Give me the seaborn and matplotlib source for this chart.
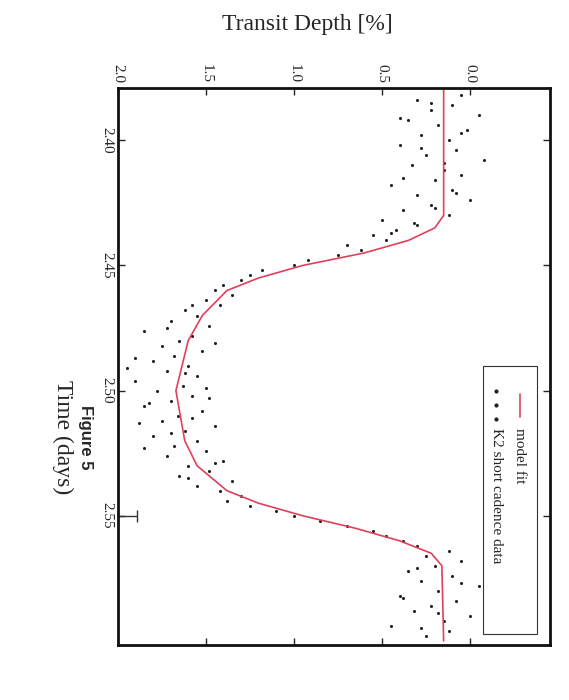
import matplotlib
matplotlib.use("Agg")
import matplotlib.pyplot as plt
import seaborn as sns
import numpy as np

sns.set_theme(style="white")
plt.rcParams['font.family'] = ['Liberation Serif', 'DejaVu Serif']

model_t = [2.380, 2.430, 2.435, 2.440, 2.445, 2.450, 2.455, 2.460, 2.470, 2.480, 2.500,
           2.520, 2.530, 2.540, 2.545, 2.550, 2.555, 2.560, 2.565, 2.570, 2.600]
model_d = [0.15, 0.15, 0.20, 0.35, 0.60, 0.95, 1.20, 1.38, 1.52, 1.60, 1.67,
           1.62, 1.55, 1.38, 1.20, 0.95, 0.65, 0.40, 0.22, 0.16, 0.15]

data_t = [2.382, 2.384, 2.386, 2.388, 2.390, 2.392, 2.394, 2.396, 2.398, 2.400,
          2.402, 2.404, 2.406, 2.408, 2.410, 2.412, 2.414, 2.416, 2.418, 2.420,
          2.422, 2.424, 2.426, 2.428, 2.430, 2.432, 2.434, 2.436, 2.438, 2.440,
          2.442, 2.444, 2.446, 2.448, 2.450, 2.452, 2.454, 2.456, 2.458, 2.460,
          2.462, 2.464, 2.466, 2.468, 2.470, 2.472, 2.474, 2.476, 2.478, 2.480,
          2.482, 2.484, 2.486, 2.488, 2.490, 2.492, 2.494, 2.496, 2.498, 2.500,
          2.502, 2.504, 2.506, 2.508, 2.510, 2.512, 2.514, 2.516, 2.518, 2.520,
          2.522, 2.524, 2.526, 2.528, 2.530, 2.532, 2.534, 2.536, 2.538, 2.540,
          2.542, 2.544, 2.546, 2.548, 2.550, 2.552, 2.554, 2.556, 2.558, 2.560,
          2.562, 2.564, 2.566, 2.568, 2.570, 2.572, 2.574, 2.576, 2.578, 2.580,
          2.582, 2.584, 2.586, 2.588, 2.590, 2.592, 2.594, 2.596, 2.598,
          2.385, 2.391, 2.397, 2.403, 2.409, 2.415, 2.421, 2.427, 2.433, 2.437,
          2.475, 2.481, 2.487, 2.493, 2.499, 2.505, 2.511, 2.517, 2.523, 2.529,
          2.571, 2.577, 2.583, 2.589, 2.595, 2.466, 2.491, 2.503, 2.513, 2.535]
data_d = [0.05, 0.30, 0.10, 0.22, -0.05, 0.35, 0.18, 0.02, 0.28, 0.12,
          0.40, 0.08, 0.25, -0.08, 0.33, 0.15, 0.05, 0.20, 0.45, 0.10,
          0.30, 0.00, 0.22, 0.38, 0.12, 0.50, 0.30, 0.42, 0.55, 0.48,
          0.70, 0.62, 0.75, 0.92, 1.00, 1.18, 1.25, 1.30, 1.40, 1.45,
          1.35, 1.50, 1.42, 1.62, 1.55, 1.70, 1.48, 1.85, 1.58, 1.65,
          1.75, 1.52, 1.68, 1.80, 1.60, 1.72, 1.55, 1.90, 1.63, 1.78,
          1.58, 1.70, 1.85, 1.52, 1.66, 1.75, 1.45, 1.62, 1.80, 1.55,
          1.68, 1.50, 1.72, 1.40, 1.60, 1.48, 1.65, 1.35, 1.55, 1.42,
          1.30, 1.38, 1.25, 1.10, 1.00, 0.85, 0.70, 0.55, 0.48, 0.38,
          0.30, 0.12, 0.25, 0.05, 0.20, 0.35, 0.10, 0.28, -0.05, 0.18,
          0.40, 0.08, 0.22, 0.32, 0.00, 0.15, 0.45, 0.12, 0.25,
          0.22, 0.40, 0.05, 0.28, 0.15, 0.38, 0.08, 0.20, 0.32, 0.45,
          1.72, 1.45, 1.90, 1.62, 1.50, 1.82, 1.58, 1.70, 1.85, 1.45,
          0.30, 0.05, 0.38, 0.18, 0.28, 1.58, 1.95, 1.48, 1.88, 1.60]

fig = plt.figure(figsize=(5.69, 7.0), dpi=100)
ax = fig.add_axes([0.207, 0.079, 0.760, 0.795])

sns.scatterplot(x=data_d, y=data_t, ax=ax, color="#222222", s=5, linewidth=0)
ax.plot(model_d, model_t, color="#e0405a", lw=1.2)
ax.errorbar([1.95], [2.55], xerr=[0.06], color="#333333", lw=1, capsize=4)

ax.set_xlim(2.0, -0.455)
ax.set_ylim(2.6015, 2.3792)
ax.xaxis.tick_top()
ax.set_xticks([2.0, 1.5, 1.0, 0.5, 0.0])
ax.set_xticklabels(["2.0", "1.5", "1.0", "0.5", "0.0"], rotation=-90, fontsize=11)
ax.set_yticks([2.40, 2.45, 2.50, 2.55])
ax.set_yticklabels(["2.40", "2.45", "2.50", "2.55"], rotation=-90, fontsize=11, va="center")
ax.tick_params(direction="in", length=5, width=1, top=True, left=True, right=True, bottom=True)
for s in ax.spines.values():
    s.set_linewidth(2)
    s.set_color("#111111")

fig.text(0.54, 0.965, "Transit Depth [%]", ha="center", va="center", fontsize=17)
fig.text(0.11, 0.375, "Time (days)", ha="center", va="center", fontsize=17, rotation=-90)
fig.text(0.15, 0.375, "Figure 5", ha="center", va="center", fontsize=12,
         rotation=-90, family=["Liberation Sans", "DejaVu Sans"], fontweight="bold")

from matplotlib.patches import Rectangle
ax.add_patch(Rectangle((0.845, 0.02), 0.125, 0.48, transform=ax.transAxes,
                       fill=False, lw=0.8, color="#333333"))
ax.plot([0.93, 0.93], [0.45, 0.41], transform=ax.transAxes, color="#e0405a", lw=1.2)
ax.scatter([0.875]*3, [0.455, 0.43, 0.405], transform=ax.transAxes, s=4, color="#222222")
ax.text(0.93, 0.39, "model fit", transform=ax.transAxes, rotation=-90,
        ha="center", va="top", fontsize=11)
ax.text(0.875, 0.39, "K2 short cadence data", transform=ax.transAxes, rotation=-90,
        ha="center", va="top", fontsize=11)

fig.savefig("out.png", dpi=100)
